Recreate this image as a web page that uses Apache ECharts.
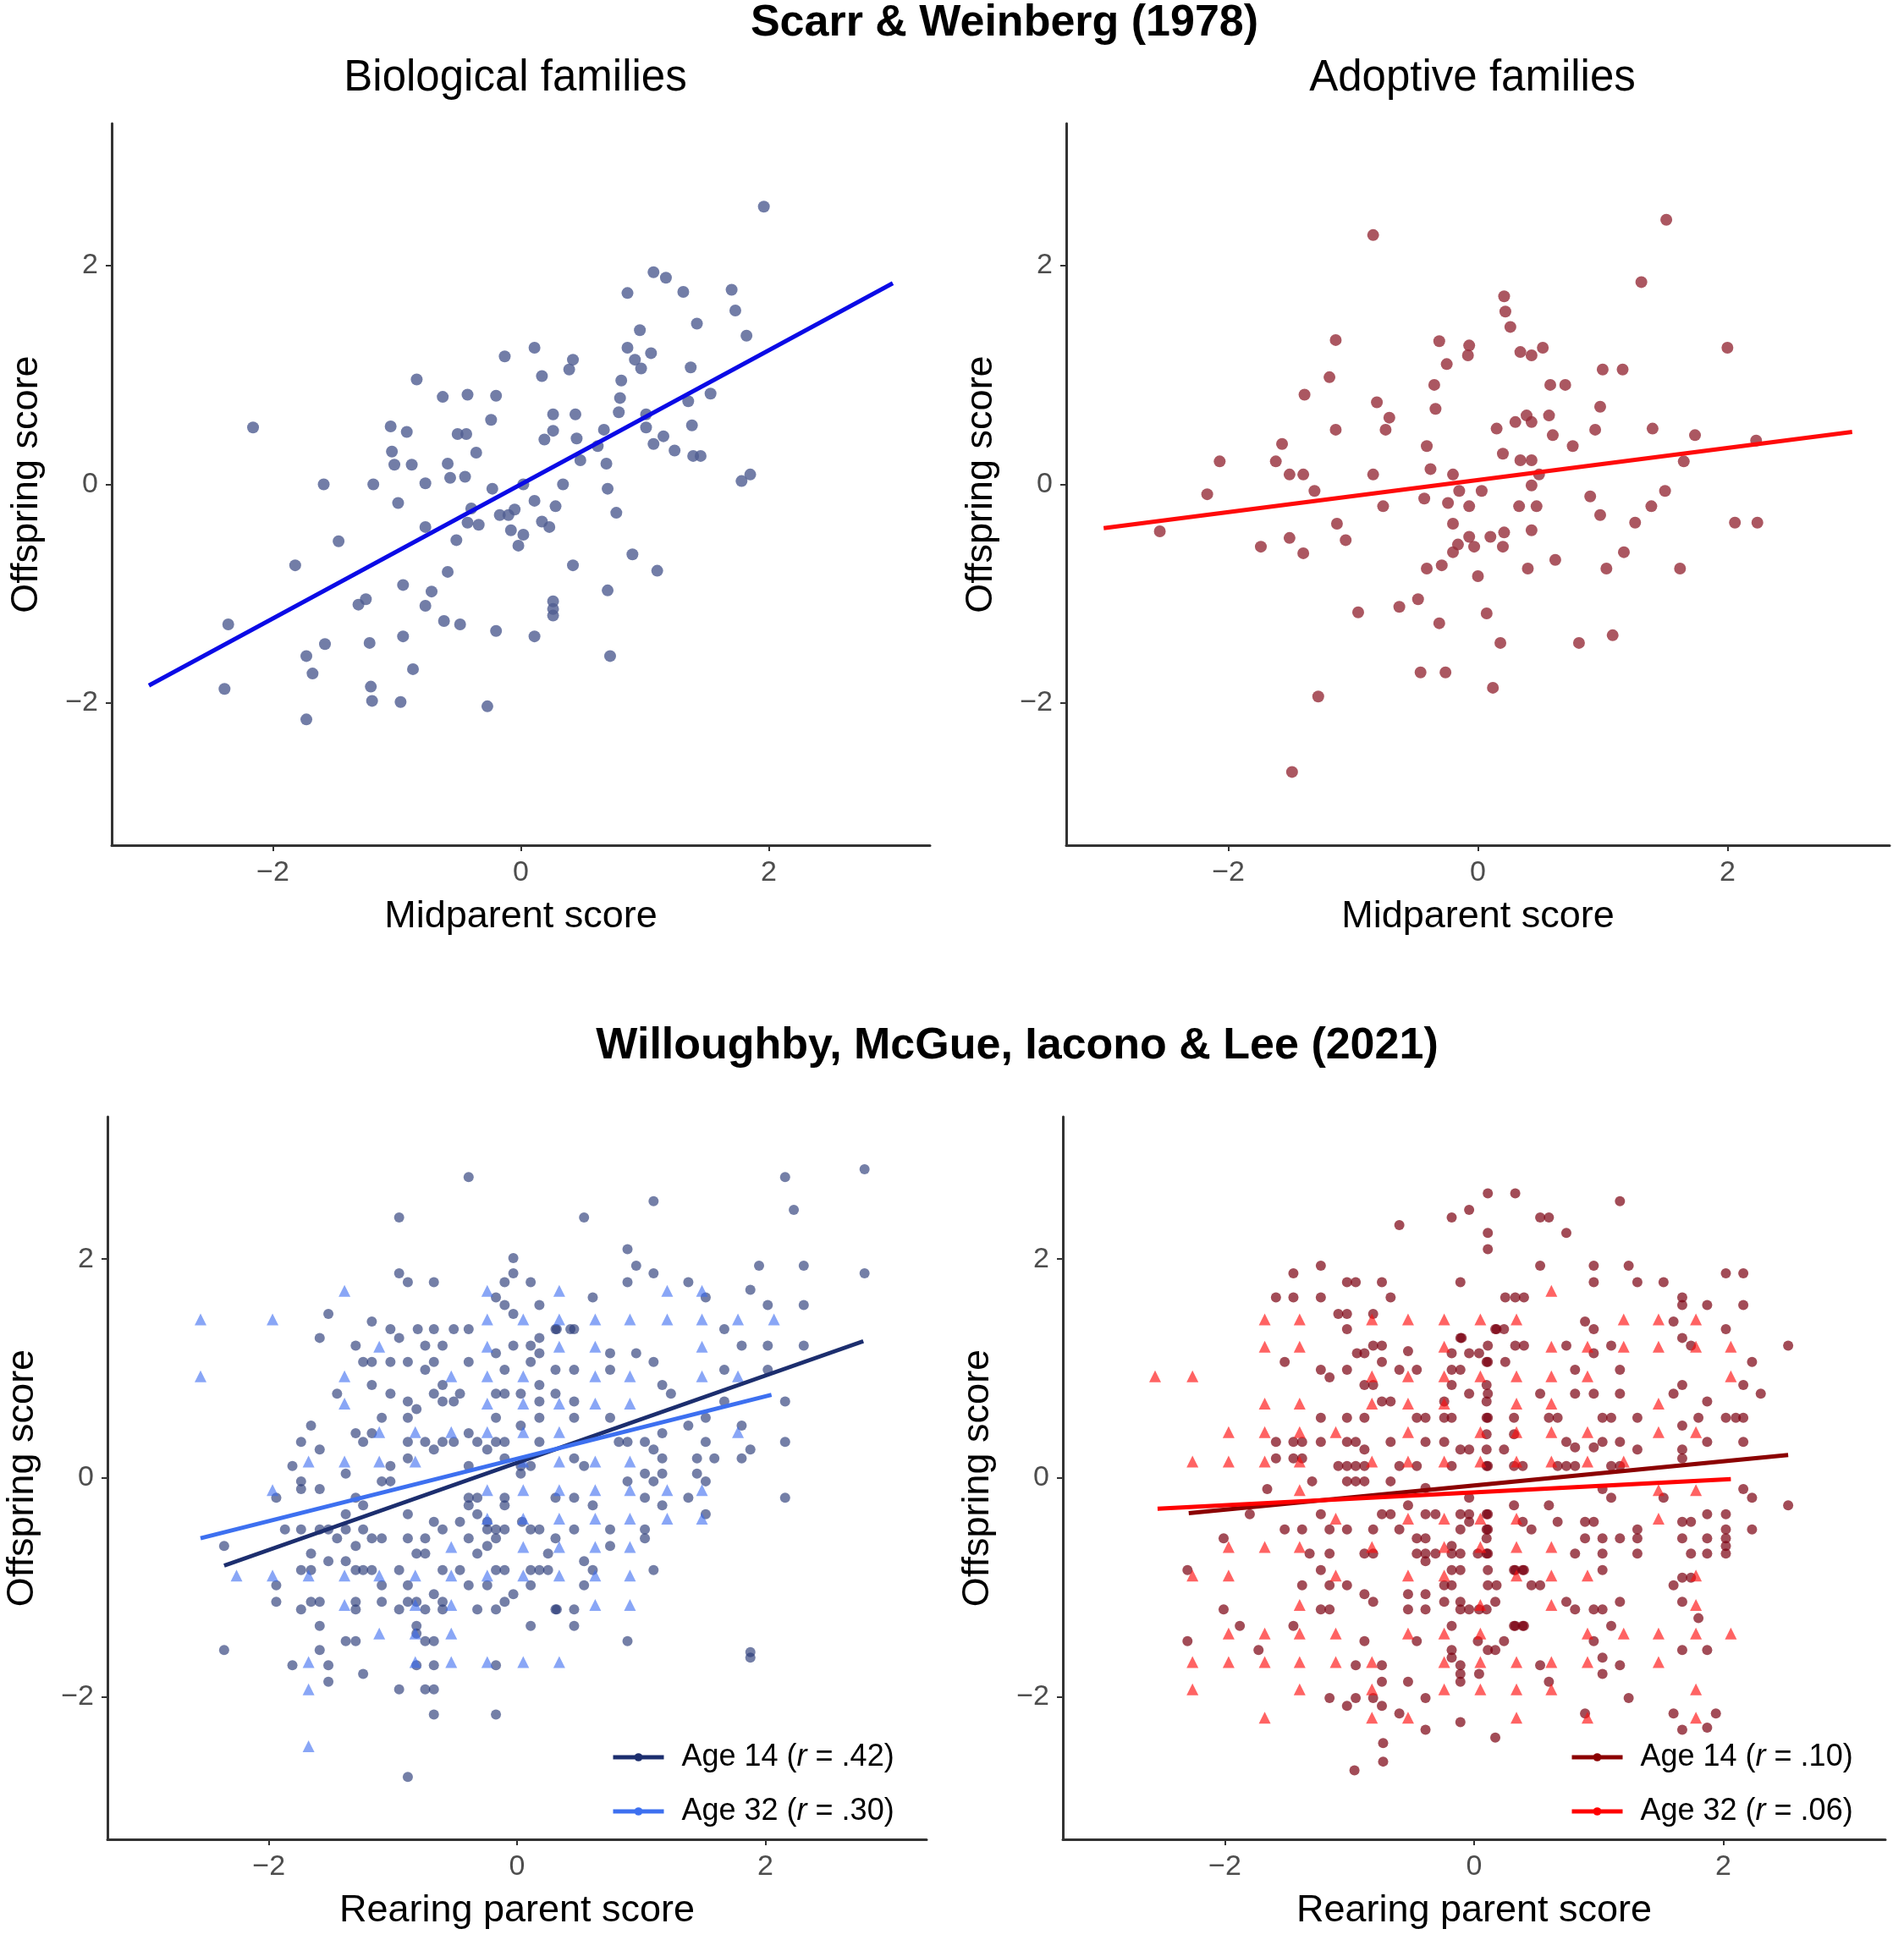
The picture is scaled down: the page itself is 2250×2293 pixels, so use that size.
<!DOCTYPE html>
<html>
<head>
<meta charset="utf-8">
<title>Scarr & Weinberg / Willoughby et al.</title>
<script src="https://cdn.jsdelivr.net/npm/echarts@6/dist/echarts.min.js"></script>
<style>
  html, body { margin: 0; padding: 0; background: #fff; }
  #main { width: 2250px; height: 2293px; }
</style>
</head>
<body>
<div id="main"></div>
<script>
// ---- data ----
// Scarr & Weinberg, biological families: [midparent, offspring]
const bioPoints = [[1.96,2.54],[1.07,1.94],[1.17,1.89],[0.86,1.75],[1.31,1.76],[1.70,1.78],[1.73,1.59],[1.42,1.47],[0.96,1.41],[1.82,1.36],[0.11,1.25],[-0.13,1.17],[0.86,1.25],[1.05,1.20],[0.42,1.14],[0.92,1.14],[0.39,1.05],[0.97,1.06],[1.37,1.07],[0.17,0.99],[-0.84,0.96],[0.81,0.95],[-0.63,0.80],[-0.43,0.82],[-0.20,0.81],[0.80,0.79],[1.53,0.83],[1.35,0.76],[0.26,0.64],[0.44,0.64],[0.79,0.66],[1.01,0.64],[-0.24,0.59],[-1.05,0.53],[-2.16,0.52],[-0.92,0.48],[-0.51,0.46],[-0.44,0.46],[0.26,0.49],[0.67,0.50],[1.01,0.52],[1.38,0.54],[0.19,0.41],[0.45,0.42],[1.15,0.44],[1.07,0.37],[0.62,0.35],[-1.04,0.30],[-0.36,0.29],[1.24,0.31],[1.39,0.26],[1.45,0.26],[-1.02,0.18],[-0.88,0.18],[-0.59,0.19],[0.48,0.22],[0.69,0.19],[-0.57,0.06],[-0.45,0.07],[1.85,0.09],[1.78,0.03],[-1.59,0.00],[-1.19,0.00],[-0.77,0.01],[-0.23,-0.04],[0.02,0.00],[0.34,0.00],[0.70,-0.04],[-0.99,-0.17],[0.11,-0.15],[0.28,-0.20],[-0.05,-0.23],[-0.40,-0.22],[-0.17,-0.28],[-0.10,-0.28],[0.77,-0.26],[-0.43,-0.35],[-0.34,-0.37],[0.17,-0.34],[-0.77,-0.39],[0.23,-0.39],[-0.08,-0.42],[0.02,-0.46],[-1.47,-0.52],[-0.52,-0.51],[-0.02,-0.56],[0.90,-0.64],[-1.82,-0.74],[0.42,-0.74],[-0.59,-0.80],[1.10,-0.79],[-0.95,-0.92],[0.70,-0.97],[-0.72,-0.98],[-1.25,-1.05],[-1.31,-1.10],[-0.77,-1.11],[0.26,-1.07],[0.26,-1.14],[0.26,-1.20],[-2.36,-1.28],[-0.62,-1.25],[-0.49,-1.28],[-0.20,-1.34],[-1.58,-1.46],[-1.22,-1.45],[-0.95,-1.39],[0.11,-1.39],[-1.73,-1.57],[0.72,-1.57],[-0.87,-1.69],[-1.68,-1.73],[-2.39,-1.87],[-1.21,-1.85],[-1.20,-1.98],[-0.97,-1.99],[-0.27,-2.03],[-1.73,-2.15]];
const bioLine = [[-3, -1.84], [3, 1.84]];

// Scarr & Weinberg, adoptive families
const adoptPoints = [[1.51,2.42],[-0.84,2.28],[1.31,1.85],[0.21,1.72],[0.22,1.58],[0.26,1.44],[-1.14,1.32],[-0.31,1.31],[-0.07,1.27],[-0.08,1.18],[0.52,1.25],[0.34,1.21],[0.43,1.18],[2.00,1.25],[-0.25,1.10],[1.00,1.05],[1.16,1.05],[-1.19,0.98],[-0.35,0.91],[0.58,0.91],[0.70,0.91],[-1.39,0.82],[-0.81,0.75],[-0.34,0.69],[0.98,0.71],[-0.71,0.61],[0.39,0.63],[0.57,0.63],[0.30,0.57],[0.43,0.57],[-1.14,0.50],[-0.74,0.50],[0.15,0.51],[0.94,0.50],[1.40,0.51],[0.60,0.45],[1.74,0.45],[2.23,0.40],[-1.57,0.37],[-0.41,0.35],[0.76,0.35],[0.20,0.28],[-2.07,0.21],[-1.62,0.21],[0.34,0.22],[0.43,0.22],[1.65,0.21],[-0.38,0.14],[-1.51,0.09],[-1.40,0.09],[-0.84,0.09],[-0.20,0.09],[0.49,0.09],[0.43,-0.01],[-1.31,-0.06],[-0.15,-0.06],[0.03,-0.06],[-2.17,-0.09],[1.50,-0.06],[-0.43,-0.13],[-0.24,-0.17],[0.90,-0.11],[-0.76,-0.20],[-0.07,-0.20],[0.33,-0.20],[0.47,-0.20],[1.39,-0.20],[0.98,-0.28],[-1.13,-0.36],[-0.20,-0.36],[1.26,-0.35],[2.06,-0.35],[2.24,-0.35],[-2.55,-0.43],[0.21,-0.44],[0.43,-0.42],[-1.51,-0.49],[-0.07,-0.48],[0.10,-0.48],[-1.06,-0.51],[-0.16,-0.55],[-1.74,-0.57],[-0.03,-0.57],[0.20,-0.57],[-1.40,-0.63],[-0.20,-0.62],[1.17,-0.62],[0.62,-0.69],[-0.41,-0.77],[-0.29,-0.74],[0.40,-0.77],[1.03,-0.77],[1.62,-0.77],[0.00,-0.84],[-0.48,-1.05],[-0.63,-1.12],[-0.96,-1.17],[0.07,-1.18],[-0.31,-1.27],[0.18,-1.45],[0.81,-1.45],[1.08,-1.38],[-0.46,-1.72],[-0.26,-1.72],[0.12,-1.86],[-1.28,-1.94],[-1.49,-2.63]];
const adoptLine = [[-3, -0.40], [3, 0.48]];

// Willoughby et al., biological-side panel: age 14 (circles) and age 32 (triangles)
const bio14Points = [[-0.39,2.75],[-0.95,2.38],[-0.03,2.01],[-0.95,1.87],[-0.88,1.79],[-0.67,1.79],[-0.03,1.87],[-0.10,1.79],[0.11,1.79],[-0.17,1.65],[-0.10,1.58],[0.18,1.58],[-1.52,1.50],[-1.17,1.43],[-0.03,1.50],[-1.02,1.36],[-0.80,1.36],[-0.67,1.36],[-0.51,1.36],[-0.39,1.36],[0.31,1.36],[0.43,1.36],[-1.59,1.28],[-0.95,1.28],[0.18,1.28],[-1.30,1.21],[-0.74,1.21],[-0.60,1.21],[-0.03,1.21],[0.11,1.21],[-0.17,1.14],[0.18,1.14],[-1.24,1.06],[-1.17,1.06],[-1.02,1.06],[-0.88,1.06],[-0.67,1.06],[-0.39,1.06],[0.11,1.06],[-0.74,0.99],[-0.10,0.99],[0.31,0.99],[0.46,0.99],[-1.17,0.85],[-0.60,0.85],[0.18,0.85],[-1.45,0.77],[-1.02,0.77],[-0.67,0.77],[-0.46,0.77],[-0.17,0.77],[-0.10,0.77],[0.03,0.77],[0.31,0.77],[-0.88,0.70],[-0.60,0.70],[-0.51,0.70],[0.18,0.70],[0.46,0.70],[-0.81,0.63],[-1.09,0.55],[-0.88,0.55],[-0.17,0.55],[0.18,0.55],[0.46,0.55],[-1.66,0.48],[0.03,0.48],[-1.30,0.41],[-1.17,0.41],[-0.39,0.41],[-1.74,0.33],[-1.24,0.33],[-0.88,0.33],[-0.74,0.33],[-0.60,0.33],[-0.51,0.33],[-0.32,0.33],[-0.17,0.33],[-0.10,0.33],[0.18,0.33],[-1.59,0.26],[-0.67,0.26],[-0.24,0.26],[-0.88,0.18],[-0.10,0.18],[0.46,0.18],[-1.81,0.11],[-1.02,0.11],[-0.39,0.11],[0.03,0.11],[0.11,0.11],[-1.38,0.04],[0.03,0.04],[-1.74,-0.03],[-1.09,-0.03],[-1.02,-0.03],[-1.74,-0.10],[-1.59,-0.10],[-1.94,-0.18],[-1.30,-0.18],[-0.39,-0.18],[-0.32,-0.18],[-0.10,-0.18],[0.31,-0.18],[0.46,-0.18],[-1.24,-0.25],[-0.39,-0.25],[-0.10,-0.25],[-1.38,-0.33],[-0.88,-0.33],[-0.32,-0.33],[-0.67,-0.40],[-0.46,-0.40],[-0.24,-0.40],[0.04,-0.40],[-1.87,-0.47],[-1.74,-0.47],[-1.59,-0.47],[-1.52,-0.47],[-1.38,-0.47],[-1.24,-0.47],[-0.60,-0.47],[-0.24,-0.47],[-0.17,-0.47],[-0.10,-0.47],[0.11,-0.47],[0.18,-0.47],[-1.45,-0.55],[-1.17,-0.55],[-1.09,-0.55],[-0.88,-0.55],[-0.74,-0.55],[-0.39,-0.55],[-0.17,-0.55],[0.31,-0.55],[-2.36,-0.62],[-1.30,-0.62],[-0.24,-0.62],[-1.66,-0.69],[-0.81,-0.69],[-0.74,-0.69],[-0.32,-0.69],[0.25,-0.69],[-1.52,-0.76],[-1.38,-0.76],[-1.74,-0.84],[-1.66,-0.84],[-1.30,-0.84],[-1.24,-0.84],[-1.17,-0.84],[-0.95,-0.84],[-0.60,-0.84],[-0.46,-0.84],[-0.17,-0.84],[-0.10,-0.84],[0.11,-0.84],[0.18,-0.84],[0.25,-0.84],[-1.94,-0.98],[-1.09,-0.98],[-0.88,-0.98],[-0.39,-0.98],[-0.24,-0.98],[0.11,-0.98],[-0.67,-1.06],[-0.03,-1.06],[-1.94,-1.13],[-1.66,-1.13],[-1.59,-1.13],[-1.30,-1.13],[-1.09,-1.13],[-0.88,-1.13],[-0.81,-1.13],[-0.60,-1.13],[-0.10,-1.13],[-1.74,-1.20],[-1.30,-1.20],[-0.95,-1.20],[-0.74,-1.20],[-0.60,-1.20],[-0.32,-1.20],[-0.17,-1.20],[0.31,-1.20],[0.46,-1.20],[-1.59,-1.35],[-0.81,-1.35],[0.11,-1.35],[0.46,-1.35],[-0.81,-1.42],[-2.36,-1.57],[-1.59,-1.57],[-1.38,-1.49],[-1.30,-1.49],[-0.74,-1.49],[-0.67,-1.49],[-1.81,-1.71],[-1.52,-1.71],[-0.67,-1.71],[-0.17,-1.71],[-0.81,-1.71],[-1.24,-1.79],[-1.52,-1.86],[-0.95,-1.93],[-0.74,-1.93],[-0.67,-1.93],[-0.67,-2.16],[-0.17,-2.16],[-0.88,-2.73],
  [2.80,2.82],[2.16,2.75],[1.10,2.53],[0.54,2.38],[2.23,2.45],[0.89,2.09],[0.96,1.94],[1.95,1.94],[2.31,1.94],[1.10,1.87],[2.80,1.87],[0.89,1.79],[1.38,1.79],[1.88,1.72],[0.61,1.65],[1.52,1.65],[2.02,1.58],[2.31,1.58],[0.32,1.36],[0.46,1.36],[1.67,1.36],[1.81,1.21],[2.02,1.21],[2.31,1.21],[0.75,1.14],[0.96,1.14],[1.10,1.06],[0.75,0.99],[1.67,0.99],[2.02,0.99],[1.17,0.85],[1.24,0.77],[1.67,0.70],[2.16,0.70],[0.75,0.55],[1.52,0.55],[1.81,0.48],[1.38,0.48],[1.17,0.41],[0.82,0.33],[0.89,0.33],[1.03,0.33],[1.52,0.33],[2.16,0.33],[1.88,0.26],[1.10,0.26],[1.17,0.18],[1.45,0.18],[1.59,0.18],[1.81,0.18],[0.54,0.11],[1.03,0.04],[1.17,0.04],[1.45,0.04],[0.89,-0.03],[1.10,-0.03],[1.52,-0.03],[1.03,-0.18],[1.38,-0.18],[2.16,-0.18],[0.61,-0.25],[1.17,-0.25],[1.52,-0.33],[0.75,-0.47],[1.03,-0.47],[1.03,-0.55],[0.46,-0.47],[0.75,-0.62],[0.54,-0.76],[0.61,-0.84],[1.10,-0.84],[0.54,-0.98],[0.32,-1.20],[0.89,-1.49],[1.88,-1.59],[1.88,-1.64]];
const bio32Points = [[-2.55,1.45],[-2.55,0.93],[-1.97,1.45],[-1.39,1.71],[-1.39,0.93],[-1.39,0.68],[-1.11,1.20],[-1.11,0.42],[-0.82,0.42],[-0.53,0.42],[-0.53,0.93],[-0.24,1.71],[-0.24,1.45],[-0.24,1.20],[-0.24,0.93],[-0.24,0.68],[-0.24,0.42],[0.05,1.45],[0.05,0.93],[0.05,0.42],[0.34,1.71],[0.34,1.45],[0.34,1.20],[0.34,0.42],[-1.68,0.15],[-1.39,0.15],[-1.11,0.15],[-0.82,0.15],[-1.97,-0.11],[-0.24,-0.11],[0.34,-0.11],[0.05,-0.37],[0.34,-0.37],[-0.53,-0.63],[0.05,-0.63],[0.34,-0.63],[-2.26,-0.89],[-1.97,-0.89],[-1.68,-0.89],[-1.39,-0.89],[-1.11,-0.89],[-0.82,-0.89],[-0.53,-0.89],[-0.24,-0.89],[0.05,-0.89],[0.34,-0.89],[-1.39,-1.16],[-0.82,-1.16],[-0.53,-1.16],[-1.11,-1.42],[-0.82,-1.42],[-0.53,-1.42],[-1.68,-1.68],[-0.82,-1.68],[-0.53,-1.68],[-0.24,-1.68],[0.34,-1.68],[-1.68,-1.93],[-1.68,-2.45],[-0.24,-0.37],[0.05,-0.11],
  [1.21,1.71],[1.49,1.71],[0.63,1.45],[0.91,1.45],[1.21,1.45],[1.49,1.45],[1.78,1.45],[2.07,1.45],[0.63,1.20],[1.49,1.20],[0.63,0.93],[0.91,0.93],[1.49,0.93],[1.78,0.93],[0.63,0.68],[0.91,0.68],[0.34,0.68],[0.05,0.68],[1.78,0.42],[0.34,0.15],[0.63,0.15],[0.91,0.15],[0.05,0.15],[0.63,-0.11],[0.91,-0.11],[1.21,-0.11],[1.49,-0.11],[0.91,-0.37],[1.21,-0.37],[1.49,-0.37],[0.63,-0.37],[0.63,-0.63],[0.91,-0.63],[0.63,-0.89],[0.91,-0.89],[0.63,-1.16],[0.91,-1.16],[0.05,-1.68]];
const bio14Line = [[-2.36, -0.80], [2.79, 1.25]];
const bio32Line = [[-2.55, -0.55], [2.05, 0.76]];

// Willoughby et al., adoptive panel
const adopt14Points = [[0.11,2.60],[0.33,2.60],[-0.04,2.45],[-0.18,2.38],[-0.60,2.31],[0.11,2.24],[0.11,2.09],[-1.45,1.87],[-1.23,1.94],[-1.02,1.79],[-0.95,1.79],[-0.74,1.79],[-0.11,1.79],[-1.59,1.65],[-1.45,1.65],[-1.23,1.65],[-0.67,1.65],[0.25,1.65],[0.33,1.65],[0.40,1.65],[-1.09,1.50],[-1.02,1.50],[-0.81,1.50],[-1.02,1.36],[0.18,1.36],[-0.11,1.28],[-0.94,1.14],[-0.88,1.14],[-0.81,1.21],[-0.74,1.21],[-0.53,1.16],[-0.18,1.14],[-0.04,1.14],[0.04,1.14],[0.11,1.21],[0.33,1.21],[0.40,1.21],[-1.52,1.06],[-1.23,0.99],[-1.02,0.99],[-0.74,1.06],[-0.60,0.99],[-0.46,0.99],[-0.18,0.99],[-0.11,0.99],[0.11,1.06],[0.25,1.06],[-1.16,0.92],[-0.88,0.85],[-0.81,0.85],[-0.18,0.85],[-0.04,0.77],[0.11,0.77],[-0.74,0.70],[-0.67,0.70],[-0.24,0.70],[-1.23,0.55],[-1.02,0.55],[-0.88,0.55],[-0.46,0.55],[-0.39,0.55],[-0.24,0.55],[-0.18,0.55],[0.11,0.55],[-1.59,0.33],[-1.45,0.33],[-1.38,0.33],[-1.23,0.33],[-1.02,0.33],[-0.95,0.33],[-0.88,0.26],[-0.67,0.33],[-0.39,0.33],[-0.24,0.33],[-0.11,0.26],[-0.04,0.26],[-1.59,0.18],[-1.45,0.18],[-1.38,0.18],[-1.09,0.11],[-1.02,0.11],[-0.95,0.11],[-0.88,0.11],[-0.60,0.11],[-0.46,0.11],[-0.18,0.11],[0.11,0.11],[-1.66,-0.10],[-1.30,-0.03],[-1.02,-0.03],[-0.95,-0.03],[-0.88,-0.03],[-0.67,-0.03],[-0.39,-0.09],[-0.53,-0.25],[-1.80,-0.33],[-1.23,-0.33],[-0.74,-0.33],[-0.67,-0.33],[-0.39,-0.33],[-0.31,-0.33],[-0.11,-0.33],[-0.04,-0.33],[0.11,-0.33],[-1.52,-0.47],[-1.38,-0.47],[-1.16,-0.47],[-1.02,-0.47],[-0.81,-0.47],[-0.60,-0.47],[-0.46,-0.55],[-0.39,-0.55],[-0.11,-0.47],[0.11,-0.47],[-2.01,-0.55],[-1.32,-0.69],[-1.16,-0.69],[-0.88,-0.69],[-0.81,-0.69],[-0.46,-0.69],[-0.39,-0.69],[-0.31,-0.69],[-0.18,-0.69],[-0.11,-0.69],[0.11,-0.69],[-0.39,-0.76],[-2.30,-0.84],[-1.23,-0.84],[-0.18,-0.84],[-0.11,-0.84],[0.11,-0.84],[0.33,-0.84],[0.40,-0.84],[-1.38,-0.98],[-1.16,-0.98],[-1.02,-0.98],[-0.53,-1.06],[-0.39,-1.06],[-0.24,-0.98],[-0.18,-0.98],[0.11,-0.98],[0.18,-0.98],[-0.88,-1.06],[-0.81,-1.13],[-2.01,-1.20],[-1.23,-1.20],[-1.16,-1.20],[-0.53,-1.20],[-0.39,-1.20],[-0.24,-1.13],[-0.11,-1.20],[-0.04,-1.20],[0.04,-1.20],[-1.88,-1.35],[-1.45,-1.35],[-0.18,-1.35],[0.33,-1.35],[0.40,-1.35],[-2.30,-1.49],[-1.73,-1.57],[-0.88,-1.49],[-0.46,-1.49],[-0.18,-1.57],[0.11,-1.57],[-0.95,-1.71],[-0.74,-1.71],[-0.11,-1.71],[-0.11,-1.79],[-0.11,-1.86],[0.04,-1.79],[-0.74,-1.86],[-0.53,-1.86],[-1.16,-2.01],[-0.95,-2.01],[-0.81,-2.01],[-0.39,-2.01],[-1.02,-2.08],[-0.74,-2.08],[-0.60,-2.15],[-0.11,-2.23],[-0.39,-2.30],[-0.96,-2.67],[-0.73,-2.42],[-0.73,-2.59],
  [1.17,2.53],[0.53,2.38],[0.60,2.38],[0.74,2.24],[0.53,1.94],[0.96,1.94],[1.24,1.94],[2.02,1.87],[2.16,1.87],[0.96,1.79],[1.31,1.79],[1.52,1.79],[1.67,1.65],[1.67,1.58],[1.87,1.58],[2.16,1.58],[0.89,1.43],[0.96,1.36],[1.60,1.43],[2.02,1.36],[0.17,1.36],[0.24,1.36],[-0.10,1.28],[0.74,1.21],[1.10,1.21],[1.67,1.28],[1.74,1.21],[2.52,1.21],[2.23,1.06],[0.96,1.14],[0.81,0.99],[1.17,0.99],[0.53,0.77],[0.81,0.77],[0.96,0.77],[1.17,0.77],[1.60,0.77],[1.67,0.85],[2.16,0.85],[2.30,0.77],[1.87,0.70],[0.60,0.55],[0.67,0.55],[1.03,0.55],[1.10,0.55],[1.31,0.55],[1.80,0.55],[2.02,0.55],[2.10,0.55],[2.16,0.55],[1.67,0.48],[0.74,0.33],[0.81,0.28],[0.96,0.28],[1.03,0.33],[1.17,0.33],[1.31,0.26],[1.87,0.33],[2.16,0.33],[1.67,0.26],[1.67,0.18],[0.67,0.11],[0.74,0.11],[0.81,0.11],[1.10,0.11],[1.17,0.11],[2.16,-0.10],[2.23,-0.18],[2.52,-0.25],[1.52,-0.18],[1.03,-0.10],[1.10,-0.18],[0.60,-0.25],[1.87,-0.33],[2.02,-0.33],[0.67,-0.40],[2.23,-0.47],[2.02,-0.47],[1.67,-0.40],[1.74,-0.40],[0.89,-0.40],[0.96,-0.40],[1.17,-0.55],[1.31,-0.47],[1.31,-0.55],[1.67,-0.55],[1.87,-0.55],[2.02,-0.55],[2.02,-0.62],[1.03,-0.55],[0.89,-0.55],[0.81,-0.69],[1.03,-0.69],[1.31,-0.69],[1.74,-0.69],[1.87,-0.69],[2.02,-0.69],[1.03,-0.84],[1.60,-0.98],[1.67,-0.91],[1.74,-0.91],[0.53,-0.98],[1.17,-1.13],[1.67,-1.13],[0.74,-1.13],[0.81,-1.20],[0.96,-1.20],[1.03,-1.20],[1.10,-1.35],[1.80,-1.28],[0.96,-1.49],[1.67,-1.57],[1.87,-1.57],[1.03,-1.64],[1.17,-1.71],[0.53,-1.71],[1.03,-1.79],[0.60,-1.86],[1.24,-2.01],[1.60,-2.15],[0.89,-2.15],[1.67,-2.30],[0.17,-2.37],[1.87,-2.28],[1.94,-2.15],
  [0.10,1.06],[0.10,0.85],[0.10,0.70],[0.10,0.55],[0.10,0.40],[0.10,0.26],[0.10,0.11],[0.24,0.26],[0.32,0.11],[0.39,0.11],[0.32,0.55],[0.32,0.40],[-0.04,-0.18],[-0.04,-0.40],[0.10,-0.33],[0.10,-0.47],[0.10,-0.55],[0.32,-0.25],[0.39,-0.40],[0.46,-0.47],[-0.18,-0.62],[0.03,-0.69],[0.10,-0.69],[0.32,-0.84],[0.39,-0.84],[0.10,-1.20],[0.17,-1.13],[0.32,-1.35],[0.39,-1.35],[-0.11,-1.13],[0.03,-1.49],[-0.18,-1.64],[0.24,-1.49],[0.17,-1.57],[0.46,-0.98]];
const adopt32Points = [[-2.56,0.93],[-2.26,0.93],[-1.68,1.45],[-1.40,1.45],[-0.82,1.45],[-0.53,1.45],[-0.24,1.45],[0.05,1.45],[0.34,1.45],[-1.68,1.20],[-1.40,1.20],[-0.24,1.20],[-0.82,0.93],[-0.53,0.93],[-0.24,0.93],[0.05,0.93],[0.34,0.93],[-1.68,0.68],[-1.40,0.68],[-0.82,0.68],[-0.53,0.68],[-0.24,0.68],[0.34,0.68],[-1.97,0.42],[-1.68,0.42],[-1.40,0.42],[-1.11,0.42],[-0.53,0.42],[0.05,0.42],[0.34,0.42],[-2.26,0.15],[-1.97,0.15],[-1.68,0.15],[-1.40,0.15],[-0.82,0.15],[-0.53,0.15],[-0.24,0.15],[0.05,0.15],[0.34,0.15],[-1.40,-0.11],[-1.11,-0.37],[-0.53,-0.37],[-0.24,-0.37],[-1.97,-0.63],[-1.68,-0.63],[-1.40,-0.63],[-0.82,-0.63],[-0.24,-0.63],[0.05,-0.63],[0.34,-0.63],[-2.26,-0.89],[-1.97,-0.89],[-1.11,-0.89],[-0.53,-0.89],[-0.24,-0.89],[-1.40,-1.16],[0.05,-1.16],[-1.97,-1.42],[-1.68,-1.42],[-1.40,-1.42],[-1.11,-1.42],[-0.53,-1.42],[-0.24,-1.42],[0.05,-1.42],[-2.26,-1.68],[-1.97,-1.68],[-1.68,-1.68],[-1.40,-1.68],[-1.11,-1.68],[-0.82,-1.68],[-0.24,-1.68],[0.05,-1.68],[0.34,-1.68],[-2.26,-1.93],[-1.40,-1.93],[-0.82,-1.93],[-0.24,-1.93],[0.05,-1.93],[0.34,-1.93],[-1.68,-2.19],[-0.82,-2.19],[-0.53,-2.19],[0.34,-2.19],
  [1.20,1.45],[1.48,1.45],[1.78,1.45],[0.62,1.71],[0.62,1.20],[0.91,1.20],[1.20,1.20],[1.48,1.20],[1.78,1.20],[2.06,1.20],[0.62,0.93],[0.91,0.93],[2.06,0.93],[0.62,0.68],[1.48,0.68],[0.62,0.42],[0.91,0.42],[1.48,0.42],[1.78,0.42],[0.62,0.15],[0.91,0.15],[1.20,0.15],[1.48,-0.11],[1.78,-0.11],[1.48,-0.37],[0.05,-0.37],[0.34,-0.37],[0.62,-0.63],[0.34,-0.89],[0.62,-0.89],[0.91,-0.89],[1.78,-0.89],[0.62,-1.16],[1.78,-1.16],[0.91,-1.42],[1.20,-1.42],[1.48,-1.42],[1.78,-1.42],[2.06,-1.42],[0.62,-1.68],[0.91,-1.68],[1.48,-1.68],[0.62,-1.93],[1.78,-1.93],[0.91,-2.19],[1.78,-2.19]];
const adopt14Line = [[-2.29, -0.32], [2.52, 0.21]];
const adopt32Line = [[-2.54, -0.28], [2.06, -0.01]];

const tickValues = [-2, 0, 2];
const axisRange = [-3.3, 3.3];

// ---- chart ----
const FONT = '"Liberation Sans", Arial, Helvetica, sans-serif';
let chart = echarts.init(document.getElementById('main'), null, { renderer: 'canvas' });

function fmtTick(v) {
  return v < 0 ? '\u2212' + Math.abs(v) : String(v);
}

// shared axis pieces (ggplot classic look: line + ticks, no grid)
function axisBase(idx) {
  return {
    type: 'value', gridIndex: idx, min: axisRange[0], max: axisRange[1],
    nameLocation: 'middle',
    nameTextStyle: { fontSize: 45, color: '#000', fontFamily: FONT },
    axisLine: { show: true, onZero: false, lineStyle: { color: '#333', width: 3 } },
    axisTick: { show: true, length: 7, customValues: tickValues, lineStyle: { color: '#333', width: 2 } },
    axisLabel: { customValues: tickValues, formatter: fmtTick, fontSize: 34, color: '#4d4d4d', margin: 16, fontFamily: FONT },
    splitLine: { show: false }
  };
}
function xAxisFor(idx, name) {
  return Object.assign(axisBase(idx), { name: name, nameGap: 62, position: 'bottom' });
}
function yAxisFor(idx) {
  return Object.assign(axisBase(idx), { name: 'Offspring score', nameGap: 78, position: 'left' });
}

function dots(name, idx, data, color, opacity, symbol, size) {
  return {
    name: name, type: 'scatter', xAxisIndex: idx, yAxisIndex: idx,
    data: data, symbol: symbol, symbolSize: size, z: 2,
    itemStyle: { color: color, opacity: opacity },
    emphasis: { disabled: true }, silent: true
  };
}
function fitLine(name, idx, data, color, width) {
  return {
    name: name, type: 'line', xAxisIndex: idx, yAxisIndex: idx,
    data: data, showSymbol: false, symbol: 'circle', symbolSize: 8, z: 5,
    lineStyle: { color: color, width: width },
    itemStyle: { color: color },
    emphasis: { disabled: true }, silent: true
  };
}

// legend text with italic r
function legendFmt(name) {
  let m = name.match(/^(Age \d+ \()r( = \.\d+\))$/);
  if (!m) return name;
  return '{s|}{n|' + m[1] + '}{i|r}{n|' + m[2] + '}';
}
let legendText = {
  fontSize: 36, color: '#000', fontFamily: FONT,
  rich: {
    s: { width: 16 },
    n: { fontSize: 36, fontFamily: FONT },
    i: { fontSize: 36, fontStyle: 'italic', fontFamily: FONT }
  }
};
function legendFor(left, names) {
  return {
    orient: 'vertical', left: left, top: 2059, itemWidth: 60, itemHeight: 12, itemGap: 28, padding: 0,
    data: names, formatter: legendFmt, textStyle: legendText, selectedMode: false,
    lineStyle: { width: 5 }
  };
}

let option = {
  backgroundColor: '#fff',
  animation: false,
  title: [
    { text: 'Scarr & Weinberg (1978)', left: 1187, top: 2, textAlign: 'center', padding: 0,
      textStyle: { fontSize: 52, fontWeight: 'bold', color: '#000', fontFamily: FONT } },
    { text: 'Biological families', left: 609, top: 67, textAlign: 'center', padding: 0,
      textStyle: { fontSize: 51, fontWeight: 'normal', color: '#000', fontFamily: FONT } },
    { text: 'Adoptive families', left: 1740, top: 67, textAlign: 'center', padding: 0,
      textStyle: { fontSize: 51, fontWeight: 'normal', color: '#000', fontFamily: FONT } },
    { text: 'Willoughby, McGue, Iacono & Lee (2021)', left: 1202, top: 1211, textAlign: 'center', padding: 0,
      textStyle: { fontSize: 52, fontWeight: 'bold', color: '#000', fontFamily: FONT } }
  ],
  grid: [
    { left: 132, top: 146, width: 967, height: 853 },
    { left: 1260, top: 146, width: 973, height: 853 },
    { left: 127, top: 1320, width: 968, height: 854 },
    { left: 1256, top: 1320, width: 972, height: 854 }
  ],
  xAxis: [
    xAxisFor(0, 'Midparent score'),
    xAxisFor(1, 'Midparent score'),
    xAxisFor(2, 'Rearing parent score'),
    xAxisFor(3, 'Rearing parent score')
  ],
  yAxis: [yAxisFor(0), yAxisFor(1), yAxisFor(2), yAxisFor(3)],
  legend: [
    legendFor(722, ['Age 14 (r = .42)', 'Age 32 (r = .30)']),
    legendFor(1855, ['Age 14 (r = .10)', 'Age 32 (r = .06)'])
  ],
  series: [
    dots('bio', 0, bioPoints, '#4f5c91', 0.8, 'circle', 14),
    fitLine('bioFit', 0, bioLine, '#0a0ae6', 5),
    dots('adopt', 1, adoptPoints, '#962d3a', 0.8, 'circle', 14),
    fitLine('adoptFit', 1, adoptLine, '#ff0a0a', 5),

    dots('b14', 2, bio14Points, '#2a3a78', 0.65, 'circle', 12),
    dots('b32', 2, bio32Points, '#3a6af0', 0.6, 'triangle', 14),
    fitLine('Age 14 (r = .42)', 2, bio14Line, '#1c2e6e', 5),
    fitLine('Age 32 (r = .30)', 2, bio32Line, '#3d70f0', 5),

    dots('a14', 3, adopt14Points, '#7a0010', 0.7, 'circle', 12),
    dots('a32', 3, adopt32Points, '#ff1010', 0.65, 'triangle', 14),
    fitLine('Age 14 (r = .10)', 3, adopt14Line, '#8b0000', 5),
    fitLine('Age 32 (r = .06)', 3, adopt32Line, '#ff0000', 5)
  ]
};

chart.setOption(option);
</script>
</body>
</html>
